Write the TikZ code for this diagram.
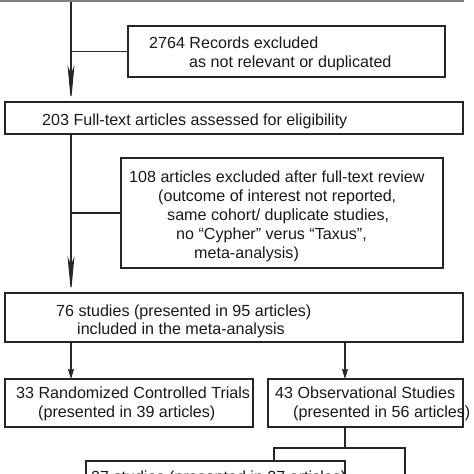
\documentclass[tikz,border=0pt]{standalone}
\usepackage{fontspec}
\setmainfont{Liberation Sans}
\usetikzlibrary{arrows.meta}
\begin{document}
\begin{tikzpicture}[x=1pt,y=-1pt,
  box/.style={draw=black!85,line width=1.1pt,inner sep=0pt,outer sep=0pt},
  txt/.style={anchor=base west,inner sep=0pt,font=\fontsize{16.1}{19}\selectfont,text=black!90},
  line/.style={draw=black!85,line width=1.1pt},
  bigarrow/.style={line,-{Stealth[length=37pt,width=7pt,inset=9pt]}},
  smallarrow/.style={line,-{Stealth[length=10pt,width=6pt,inset=1pt]}}]
\useasboundingbox (0,0) rectangle (474,474);
\clip (0,0) rectangle (474,474);
% boxes
\node[draw=black!50,line width=2pt,inner sep=0pt,minimum width=470pt,minimum height=40pt] (b0) at (228,-19) {};
\node[box,minimum width=317pt,minimum height=51pt] (b1) at (286.5,51.5) {};
\node[box,minimum width=458pt,minimum height=32pt] (b2) at (234,118) {};
\node[box,minimum width=322pt,minimum height=110pt] (b3) at (282,213) {};
\node[box,minimum width=458pt,minimum height=49pt] (b4) at (234,317.5) {};
\node[box,minimum width=248pt,minimum height=48pt] (b5) at (129,403) {};
\node[box,minimum width=195pt,minimum height=48pt] (b6) at (365.5,403) {};
\node[box,minimum width=259pt,minimum height=40pt] (b7) at (215.5,481) {};
% texts
\node[txt] (t1a) at (149,48) {2764 Records excluded};
\node[txt] (t1b) at (189,67) {as not relevant or duplicated};
\node[txt] (t2a) at (42,125) {203 Full-text articles assessed for eligibility};
\node[txt] (t3a) at (129,182) {108 articles excluded after full-text review};
\node[txt] (t3b) at (158,201) {(outcome of interest not reported,};
\node[txt] (t3c) at (167,220) {same cohort/ duplicate studies,};
\node[txt] (t3d) at (176,239) {no “Cypher” verus “Taxus”,};
\node[txt] (t3e) at (194,258) {meta-analysis)};
\node[txt] (t4a) at (56,316) {76 studies (presented in 95 articles)};
\node[txt] (t4b) at (77,334) {included in the meta-analysis};
\node[txt] (t5a) at (16,398) {33 Randomized Controlled Trials};
\node[txt] (t5b) at (38,417) {(presented in 39 articles)};
\node[txt] (t6a) at (275,398) {43 Observational Studies};
\node[txt] (t6b) at (293,417) {(presented in 56 articles)};
\node[txt] (t7a) at (91,482) {27 studies (presented in 27 articles)};
% coordinates
\coordinate (L) at (71,0);
\coordinate (R) at (345,0);
\coordinate (jm) at (345,448);
\coordinate (jl) at (274,448);
\coordinate (jr) at (405,448);
\coordinate (je) at (405,490);
% connectors
\draw[bigarrow] (L |- b0.south) -- (L |- b2.north);
\draw[line] (L |- b1.west) -- (b1.west);
\draw[bigarrow] (L |- b2.south) -- (L |- b4.north);
\draw[line] (L |- b3.west) -- (b3.west);
\draw[smallarrow] (L |- b4.south) -- (L |- b5.north);
\draw[smallarrow] (R |- b4.south) -- (R |- b6.north);
\draw[line] (R |- b6.south) -- (jm);
\draw[line] (jl |- b7.north) -- (jl) -- (jr) -- (je);
\end{tikzpicture}
\end{document}
